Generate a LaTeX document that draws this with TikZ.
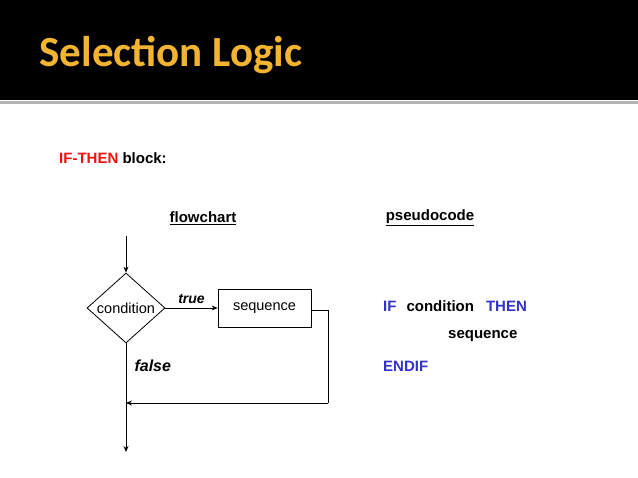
\documentclass[tikz,border=0pt]{standalone}
\usepackage{fontspec}
\setmainfont{Liberation Sans}
\newfontfamily\titlefont{Carlito}
\usetikzlibrary{shapes.geometric,arrows.meta}
\definecolor{gold}{HTML}{F2B431}
\definecolor{ifred}{HTML}{F01010}
\definecolor{kwblue}{HTML}{3333CC}
\begin{document}
\begin{tikzpicture}[x=1pt,y=-1pt,
  lbl/.style={font=\fontsize{15}{18}\selectfont\bfseries, inner sep=0},
  conn/.style={draw, line width=0.8pt, -{Stealth[length=6pt,width=5pt]}},
  ln/.style={draw, line width=0.8pt}]
\useasboundingbox (0,0) rectangle (638,478);
\fill[white] (0,0) rectangle (638,478);
\fill[black] (0,0) rectangle (638,100);
\fill[gray!60] (0,101) rectangle (638,104);
\node[anchor=west, text=gold, font=\titlefont\fontsize{43}{50}\selectfont\bfseries] (title) at (36,55) {Selection Logic};
\node[lbl, anchor=west] (hdr) at (59,158) {\textcolor{ifred}{IF-THEN} block:};
\node[lbl] (fc) at (203,218) {\underline{flowchart}};
\node[lbl] (pc) at (430,218) {\underline{pseudocode}};
\coordinate (start) at (126,236);
\node[draw, diamond, line width=0.8pt, minimum width=78pt, minimum height=70pt, inner sep=0, font=\fontsize{14.5}{16}\selectfont] (cond) at (126,308) {condition};
\node[draw, line width=0.8pt, minimum width=93pt, minimum height=38pt, lbl, font=\fontsize{14.5}{16}\selectfont] (seq) at (264.5,308) {sequence};
\coordinate (r1) at (328,310);
\coordinate (r2) at (328,403);
\coordinate (join) at (126,403);
\coordinate (end) at (126,452);
\draw[conn] (start) -- (cond.north);
\draw[conn] (cond.east) -- node[above=1pt, font=\itshape\bfseries\fontsize{14}{16}\selectfont]{true} (seq.west);
\draw[ln] (seq.east |- r1) -- (r1) -- (r2);
\draw[conn] (r2) -- (join);
\draw[conn] (cond.south) -- (end);
\node[anchor=west, font=\itshape\bfseries\fontsize{16}{18}\selectfont] (fl) at (131,366) {false};
\node[lbl, anchor=west] (ifl) at (383,306) {\textcolor{kwblue}{IF}\hspace{10pt}condition\hspace{12pt}\textcolor{kwblue}{THEN}};
\node[lbl, anchor=west] (sq) at (448,336) {sequence};
\node[lbl, anchor=west, text=kwblue] (ei) at (383,366) {ENDIF};
\end{tikzpicture}
\end{document}
